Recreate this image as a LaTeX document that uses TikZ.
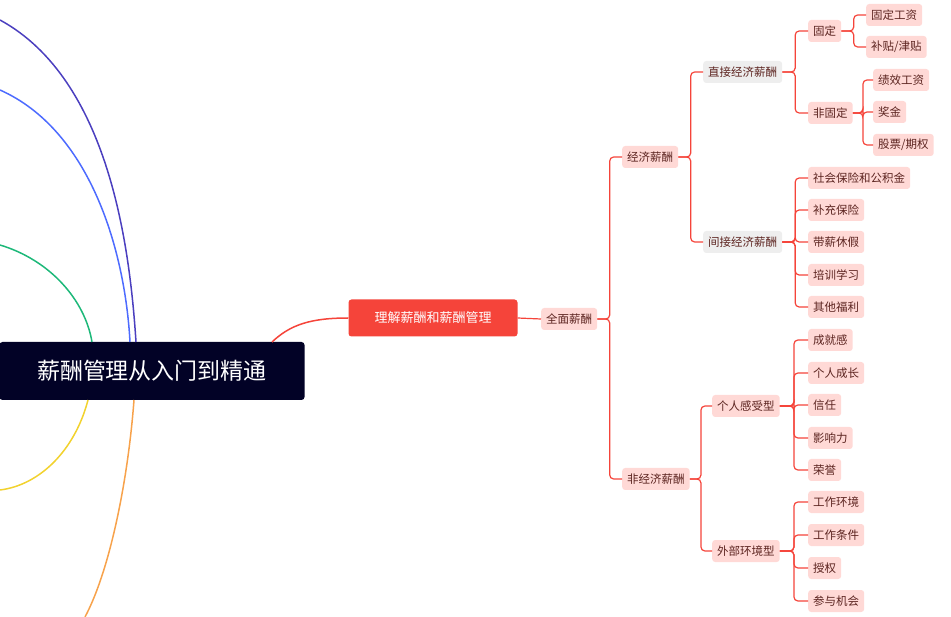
\documentclass[tikz,border=0pt]{standalone}
\usepackage{fontspec}
\setmainfont{Noto Sans CJK SC}
\usetikzlibrary{calc, %for the elbow connectors
                positioning}
\definecolor{rootbg}{HTML}{020226}
\definecolor{branchred}{HTML}{F5443A}
\definecolor{leafpink}{HTML}{FFD9D6}
\definecolor{leaftext}{HTML}{5C2420}
\definecolor{midgrey}{HTML}{EEEEEE}
\definecolor{brindigo}{HTML}{4B3FBF}
\definecolor{brblue}{HTML}{4D6BFF}
\definecolor{brgreen}{HTML}{1DB879}
\definecolor{bryellow}{HTML}{F2D22E}
\definecolor{brorange}{HTML}{F7A24B}

\begin{document}
\begin{tikzpicture}[x=1pt, y=-1pt,
                    Root/.style={fill=rootbg, text=white, rounded corners=3pt, minimum width=305pt, minimum height=58pt, font=\fontsize{23}{26}\selectfont},
                    Topic/.style={fill=branchred, text=white, rounded corners=3pt, minimum width=169pt, minimum height=37pt, font=\fontsize{13}{15}\selectfont},
                    Leaf/.style={anchor=west, fill=leafpink, text=leaftext, rounded corners=3pt, inner xsep=5pt, inner ysep=2pt, minimum height=22pt, font=\fontsize{11.5}{13}\selectfont},
                    Grey/.style={Leaf, fill=midgrey},
                    elbow/.style={draw=branchred, line width=1.2pt, rounded corners=4pt}
                    ]
    \useasboundingbox (0,0) rectangle (951,617);

    % ROOT AND TOPIC %
    \node[Root] (root) at (152,371) {薪酬管理从入门到精通};
    \node[Topic] (topic) at (433,318) {理解薪酬和薪酬管理};

    % OTHER BRANCHES %
    \draw[line width=1.5pt, brindigo] (0,20) .. controls (110,80) and (130,250) .. (136,342);
    \draw[line width=1.5pt, brblue] (0,90) .. controls (90,130) and (125,250) .. (130,342);
    \draw[line width=1.5pt, brgreen] (0,245) .. controls (50,260) and (85,300) .. (92,342);
    \draw[line width=1.5pt, bryellow] (88,400) .. controls (75,450) and (40,485) .. (0,490);
    \draw[line width=1.5pt, brorange] (134,400) .. controls (128,480) and (110,570) .. (85,617);
    \draw[branchred, line width=1.5pt] (272,342) .. controls (290,325) and (310,318) .. (topic.west);

    % LEAVES %
    \foreach \n/\x/\y/\t in {all/541/319/全面薪酬, eco/622/157/经济薪酬, non/622/479/非经济薪酬,
        fix/808/31/固定, unfix/808/113/非固定,
        f1/866/15/固定工资,
        u1/873/80/绩效工资, u2/873/112/奖金,
        i1/808/178/社会保险和公积金, i2/808/210/补充保险, i3/808/242/带薪休假, i4/808/275/培训学习, i5/808/307/其他福利,
        per/712/406/个人感受型, env/712/551/外部环境型,
        p1/808/340/成就感, p2/808/373/个人成长, p3/808/405/信任, p4/808/438/影响力, p5/808/470/荣誉,
        e1/808/502/工作环境, e2/808/535/工作条件, e3/808/568/授权, e4/808/601/参与机会}
    \node[Leaf] (\n) at (\x,\y) {\t};
    \node[Leaf] (f2) at (866,47) {补贴/津贴};
    \node[Leaf] (u3) at (873,145) {股票/期权};
    \node[Grey] (dir) at (703,72) {直接经济薪酬};
    \node[Grey] (ind) at (703,242) {间接经济薪酬};

    % CONNECTORS %
    \draw[elbow] (topic.east) -- (all.west);
    \foreach \p/\c in {all/eco, all/non, eco/dir, eco/ind, dir/fix, dir/unfix,
        fix/f1, fix/f2, unfix/u1, unfix/u2, unfix/u3,
        ind/i1, ind/i2, ind/i3, ind/i4, ind/i5,
        non/per, non/env, per/p1, per/p2, per/p3, per/p4, per/p5,
        env/e1, env/e2, env/e3, env/e4}
    \draw[elbow] (\p.east) -- ($(\p.east)!0.5!(\p.east-|\c.west)$) |- (\c.west);
\end{tikzpicture}
\end{document}
